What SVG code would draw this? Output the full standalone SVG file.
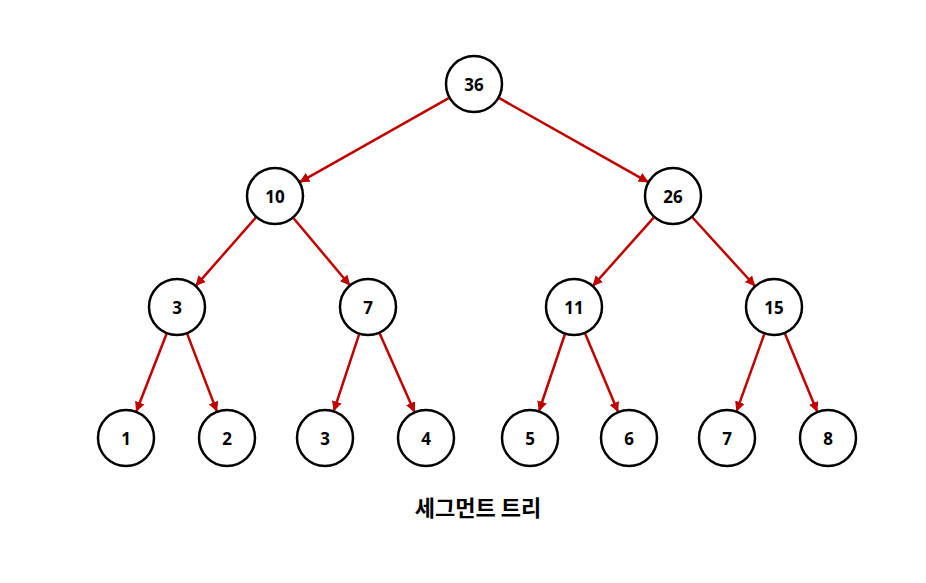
<svg xmlns="http://www.w3.org/2000/svg" width="926" height="583" viewBox="0 0 926 583">
<style>
.n circle{fill:#fff;stroke:#000;stroke-width:2.5}
.n text{font-family:"Noto Sans","Liberation Sans",sans-serif;font-size:17px;font-weight:bold;text-anchor:middle;dominant-baseline:central}
.e line{stroke:#c00000;stroke-width:2.5;marker-end:url(#a)}
.t{font-family:"Noto Sans CJK KR",sans-serif;font-size:22px;font-weight:bold;text-anchor:middle}
</style>
<defs><marker id="a" viewBox="0 0 10 10" refX="9" refY="5" markerWidth="4" markerHeight="4" orient="auto" markerUnits="strokeWidth"><path d="M0,0L10,5L0,10z" fill="#c00000"/></marker></defs>
<rect width="926" height="583" fill="#fff"/>
<g class="e" id="edges">
<line x1="448.7" y1="98.2" x2="300.3" y2="181.8"/>
<line x1="499.3" y1="98.2" x2="647.7" y2="181.8"/>
<line x1="255.8" y1="217.7" x2="196.2" y2="285.3"/>
<line x1="293.6" y1="218.2" x2="349.4" y2="284.8"/>
<line x1="653.7" y1="217.6" x2="593.3" y2="285.4"/>
<line x1="692.5" y1="217.5" x2="754.5" y2="285.5"/>
<line x1="166.5" y1="334" x2="136.5" y2="411"/>
<line x1="187.3" y1="334.1" x2="216.7" y2="410.9"/>
<line x1="359" y1="334.6" x2="334" y2="410.4"/>
<line x1="379.7" y1="333.5" x2="414.3" y2="411.5"/>
<line x1="564.8" y1="334.5" x2="539.2" y2="410.5"/>
<line x1="585.2" y1="333.7" x2="617.8" y2="411.3"/>
<line x1="764.2" y1="334.3" x2="736.8" y2="410.7"/>
<line x1="785" y1="333.8" x2="817" y2="411.2"/>
</g>
<g class="n" id="n36"><circle cx="474" cy="84" r="28"/><text x="474" y="84">36</text></g>
<g class="n" id="n10"><circle cx="275" cy="196" r="28"/><text x="275" y="196">10</text></g>
<g class="n" id="n26"><circle cx="673" cy="196" r="28"/><text x="673" y="196">26</text></g>
<g class="n" id="n3a"><circle cx="177" cy="307" r="28"/><text x="177" y="307">3</text></g>
<g class="n" id="n7a"><circle cx="368" cy="307" r="28"/><text x="368" y="307">7</text></g>
<g class="n" id="n11"><circle cx="574" cy="307" r="28"/><text x="574" y="307">11</text></g>
<g class="n" id="n15"><circle cx="774" cy="307" r="28"/><text x="774" y="307">15</text></g>
<g class="n" id="l1"><circle cx="126" cy="438" r="28"/><text x="126" y="438">1</text></g>
<g class="n" id="l2"><circle cx="227" cy="438" r="28"/><text x="227" y="438">2</text></g>
<g class="n" id="l3"><circle cx="325" cy="438" r="28"/><text x="325" y="438">3</text></g>
<g class="n" id="l4"><circle cx="426" cy="438" r="28"/><text x="426" y="438">4</text></g>
<g class="n" id="l5"><circle cx="530" cy="438" r="28"/><text x="530" y="438">5</text></g>
<g class="n" id="l6"><circle cx="629" cy="438" r="28"/><text x="629" y="438">6</text></g>
<g class="n" id="l7"><circle cx="727" cy="438" r="28"/><text x="727" y="438">7</text></g>
<g class="n" id="l8"><circle cx="828" cy="438" r="28"/><text x="828" y="438">8</text></g>
<text class="t" x="478" y="516">세그먼트 트리</text>
</svg>
